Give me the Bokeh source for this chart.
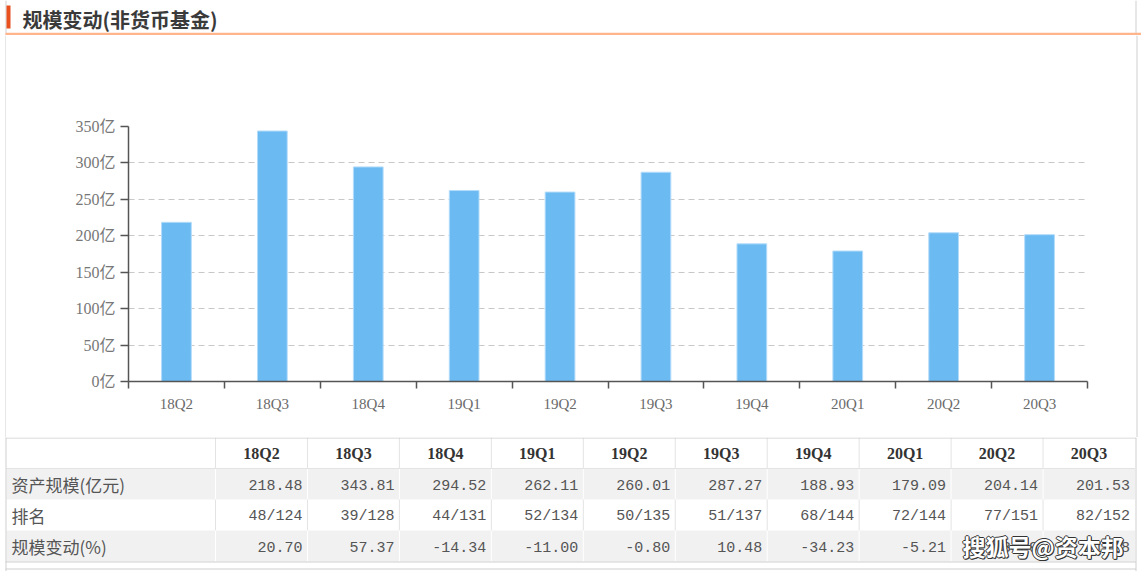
from bokeh.plotting import figure
from bokeh.layouts import column, row
from bokeh.models import Range1d, FixedTicker, CustomJSTickFormatter, PrintfTickFormatter
from bokeh.core.properties import value
from bokeh.embed import file_html
from bokeh.resources import INLINE

# ---------------- data ----------------
title_text = "规模变动(非货币基金)"
quarters = ["18Q2", "18Q3", "18Q4", "19Q1", "19Q2", "19Q3", "19Q4", "20Q1", "20Q2", "20Q3"]
assets = [218.48, 343.81, 294.52, 262.11, 260.01, 287.27, 188.93, 179.09, 204.14, 201.53]
ranks = ["48/124", "39/128", "44/131", "52/134", "50/135", "51/137", "68/144", "72/144", "77/151", "82/152"]
changes = [20.70, 57.37, -14.34, -11.00, -0.80, 10.48, -34.23, -5.21, 13.99, -1.28]
row_labels = ["资产规模(亿元)", "排名", "规模变动(%)"]
y_ticks = [0, 50, 100, 150, 200, 250, 300, 350]
watermark = "搜狐号@资本邦"

# ---------------- layout constants ----------------
W, H = 1141, 571
TITLE_H = 35
CHART_H = 402
TABLE_H = H - TITLE_H - CHART_H
LEFT_X, RIGHT_X = 5.5, 1134.5
BORDER = "#cfcfcf"
CJK = "Noto Sans CJK SC"
SERIF = "Liberation Serif, Noto Sans CJK SC"


def blank(fig):
    fig.axis.visible = False
    fig.xgrid.visible = False
    fig.ygrid.visible = False
    fig.outline_line_color = None
    fig.background_fill_color = "white"
    fig.border_fill_color = "white"
    return fig


# ---------------- title strip ----------------
t = blank(figure(width=W, height=TITLE_H, x_range=Range1d(0, W), y_range=Range1d(TITLE_H, 0),
                 min_border=0, toolbar_location=None, output_backend="svg"))
t.segment(x0=[LEFT_X, RIGHT_X + 1], y0=[0, 0], x1=[LEFT_X, RIGHT_X + 1], y1=[TITLE_H, TITLE_H],
          line_color=BORDER, line_width=1)
t.quad(left=[6], right=[10], top=[5], bottom=[28], fill_color="#e8501e", line_color=None)
t.text(x=[22], y=[19], text=[title_text], text_font=value(CJK), text_font_size="20px",
       text_font_style="bold", text_color="#3a3a3a", text_baseline="middle", text_align="left")
t.segment(x0=[5], y0=[33.5], x1=[W], y1=[33.5], line_color="#ffb48c", line_width=2.5)

# ---------------- chart ----------------
n = len(quarters)
xs = [i + 0.5 for i in range(n)]

lstrip = blank(figure(width=6, height=CHART_H, x_range=Range1d(0, 6), y_range=Range1d(0, CHART_H),
                      min_border=0, toolbar_location=None, output_backend="svg"))
lstrip.segment(x0=[LEFT_X], y0=[0], x1=[LEFT_X], y1=[CHART_H], line_color=BORDER, line_width=1)

rstrip = blank(figure(width=6, height=CHART_H, x_range=Range1d(0, 6), y_range=Range1d(0, CHART_H),
                      min_border=0, toolbar_location=None, output_backend="svg"))
rstrip.segment(x0=[1.5], y0=[0], x1=[1.5], y1=[CHART_H], line_color=BORDER, line_width=1)

p = figure(width=W - 12, height=CHART_H, x_range=Range1d(0, n), y_range=Range1d(0, 350),
           min_border_left=122, min_border_right=48, min_border_top=91, min_border_bottom=56,
           toolbar_location=None, output_backend="svg")
p.outline_line_color = None
p.background_fill_color = "white"
p.border_fill_color = "white"

p.vbar(x=xs, top=assets, width=0.31, fill_color="#6bbaf2", line_color="#b3dcfa", line_width=1)

p.xgrid.visible = False
p.ygrid.grid_line_color = "#c8c8c8"
p.ygrid.grid_line_dash = "6 4"
p.ygrid.grid_line_width = 1

xa = p.xaxis[0]
xa.ticker = FixedTicker(ticks=xs, minor_ticks=list(range(n + 1)))
xa.formatter = CustomJSTickFormatter(args=dict(labels=quarters),
                                     code="return labels[Math.floor(tick)] || '';")
xa.axis_line_color = "#555555"
xa.axis_line_width = 1.5
xa.major_tick_line_color = None
xa.major_tick_out = 0
xa.major_tick_in = 0
xa.minor_tick_line_color = "#555555"
xa.minor_tick_line_width = 1.5
xa.minor_tick_out = 7
xa.minor_tick_in = 0
xa.major_label_standoff = 7
xa.major_label_text_font = SERIF
xa.major_label_text_font_size = "15px"
xa.major_label_text_color = "#6a6a6a"

ya = p.yaxis[0]
ya.ticker = FixedTicker(ticks=y_ticks)
ya.formatter = PrintfTickFormatter(format="%d亿")
ya.axis_line_color = "#555555"
ya.axis_line_width = 1.5
ya.major_tick_line_color = "#555555"
ya.major_tick_line_width = 1.5
ya.major_tick_out = 8
ya.major_tick_in = 0
ya.minor_tick_line_color = None
ya.major_label_standoff = 5
ya.major_label_text_font = SERIF
ya.major_label_text_font_size = "16px"
ya.major_label_text_color = "#777777"

# ---------------- table ----------------
tb = blank(figure(width=W, height=TABLE_H, x_range=Range1d(0, W), y_range=Range1d(H, H - TABLE_H),
                  min_border=0, toolbar_location=None, output_backend="svg"))
top = H - TABLE_H
row_h = 31
col0_right = 215
col_w = (RIGHT_X - col0_right) / n
row_tops = [top + row_h * i for i in range(4)]
row_bottoms = [rt + row_h for rt in row_tops]
row_bottoms[-1] = top + 124

# gray bands on data rows 1 and 3
tb.quad(left=[6, 6], right=[RIGHT_X, RIGHT_X], top=[row_tops[1], row_tops[3]],
        bottom=[row_bottoms[1], row_bottoms[3]], fill_color="#f1f1f1", line_color=None)

col_lines = [col0_right + col_w * i for i in range(n)]
# vertical inner lines: light gray on white rows, white on gray rows
for r in range(4):
    c = "#ffffff" if r in (1, 3) else "#e3e3e3"
    tb.segment(x0=col_lines, y0=[row_tops[r]] * n, x1=col_lines, y1=[row_bottoms[r]] * n,
               line_color=c, line_width=1)
# horizontal inner lines
tb.segment(x0=[6], y0=[row_bottoms[0]], x1=[RIGHT_X], y1=[row_bottoms[0]], line_color="#e3e3e3")
# outer borders
tb.segment(x0=[5, 5, 5], y0=[top + 0.5, row_bottoms[-1] + 0.5, top + 131.5],
           x1=[RIGHT_X + 1, RIGHT_X + 1, RIGHT_X + 1], y1=[top + 0.5, row_bottoms[-1] + 0.5, top + 131.5],
           line_color=BORDER)
tb.segment(x0=[LEFT_X, RIGHT_X + 1], y0=[top, top], x1=[LEFT_X, RIGHT_X + 1], y1=[H, H],
           line_color=BORDER)

centers = [(rt + rb) / 2 for rt, rb in zip(row_tops, row_bottoms)]
col_centers = [c + col_w / 2 for c in col_lines]
col_rights = [c + col_w - 5 for c in col_lines]

tb.text(x=col_centers, y=[centers[0]] * n, text=quarters, text_font=value("Liberation Serif"),
        text_font_size="16px", text_font_style="bold", text_color="#333333",
        text_align="center", text_baseline="middle")
tb.text(x=[11, 11, 11], y=centers[1:], text=row_labels, text_font=value(CJK),
        text_font_size="17px", text_color="#555555", text_align="left", text_baseline="middle")

value_rows = [["%.2f" % v for v in assets], ranks, ["%.2f" % v for v in changes]]
for r, vals in enumerate(value_rows):
    tb.text(x=col_rights, y=[centers[r + 1] + 1] * n, text=vals, text_font=value("Liberation Mono"),
            text_font_size="15px", text_color="#555555", text_align="right", text_baseline="middle")

# watermark (white with dark outline)
wx, wy = 962, 545
for dx, dy in [(-1, 0), (1, 0), (0, -1), (0, 1), (1, 1)]:
    tb.text(x=[wx + dx], y=[wy + dy], text=[watermark], text_font=value(CJK), text_font_size="23px",
            text_font_style="bold", text_color="#333333", text_align="left", text_baseline="middle")
tb.text(x=[wx], y=[wy], text=[watermark], text_font=value(CJK), text_font_size="23px",
        text_font_style="bold", text_color="#ffffff", text_align="left", text_baseline="middle")

chart_row = row(column(lstrip, spacing=0), p, column(rstrip, spacing=0), spacing=0)
layout = column(t, chart_row, tb, spacing=0)

open("out.html", "w").write(file_html(layout, INLINE))
